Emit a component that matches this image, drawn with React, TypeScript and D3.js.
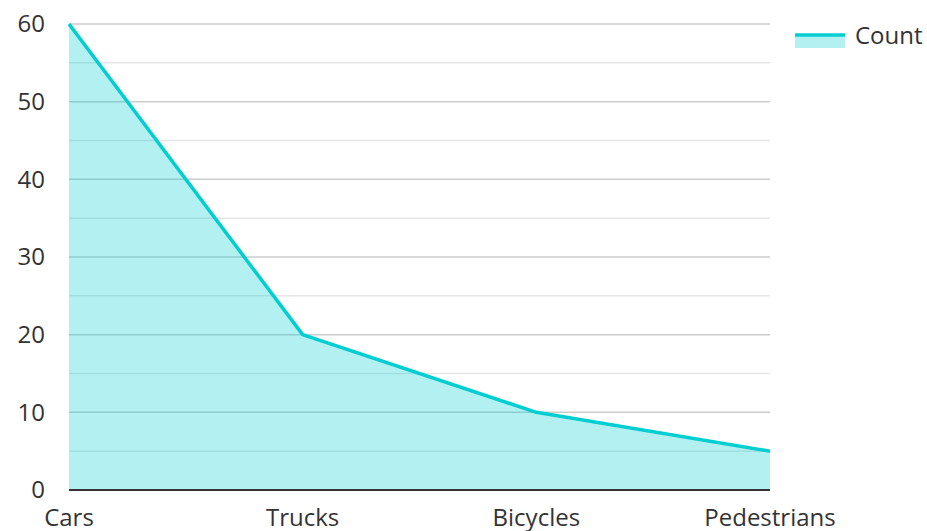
import React from "react";
import * as d3 from "d3";

const categories = ["Cars", "Trucks", "Bicycles", "Pedestrians"];
const counts = [60, 20, 10, 5];
const yTicks = [0, 10, 20, 30, 40, 50, 60];
const minorTicks = [5, 15, 25, 35, 45, 55];
const seriesName = "Count";

const W = 927, H = 531;
const M = { left: 69, right: 157, top: 24, bottom: 41 };
const FONT = "'Open Sans', 'Noto Sans', sans-serif";
const LINE = "#00CED1";

export default function App() {
  const x = d3.scalePoint<string>().domain(categories).range([M.left, W - M.right]);
  const y = d3.scaleLinear().domain([0, 60]).range([H - M.bottom, M.top]);
  const data = categories.map((c, i) => ({ c, v: counts[i] }));
  const line = d3.line<{ c: string; v: number }>().x(d => x(d.c)!).y(d => y(d.v));
  const area = d3.area<{ c: string; v: number }>().x(d => x(d.c)!).y0(y(0)).y1(d => y(d.v));
  return (
    <svg width={W} height={H} style={{ position: "absolute", left: 0, top: 0 }}>
      {minorTicks.map(t => (
        <line key={"m" + t} x1={M.left} x2={W - M.right} y1={y(t)} y2={y(t)} stroke="#e6e6e6" strokeWidth={1.5} />
      ))}
      {yTicks.filter(t => t !== 0).map(t => (
        <line key={"g" + t} x1={M.left} x2={W - M.right} y1={y(t)} y2={y(t)} stroke="#cccccc" strokeWidth={1.5} />
      ))}
      <path d={area(data)!} fill={LINE} fillOpacity={0.3} />
      <path d={line(data)!} fill="none" stroke={LINE} strokeWidth={3.5} strokeLinejoin="round" />
      <line x1={M.left} x2={W - M.right} y1={y(0)} y2={y(0)} stroke="#333" strokeWidth={2} />
      {yTicks.map(t => (
        <text key={"t" + t} x={45} y={y(t)} dy="0.35em" textAnchor="end" fontFamily={FONT} fontSize={24} fill="#333">{t}</text>
      ))}
      {categories.map(c => (
        <text key={c} x={x(c)!} y={526} textAnchor="middle" fontFamily={FONT} fontSize={24} fill="#333">{c}</text>
      ))}
      <rect x={795} y={35} width={50} height={13} fill={LINE} fillOpacity={0.3} />
      <line x1={795} x2={845} y1={35} y2={35} stroke={LINE} strokeWidth={3.5} />
      <text x={855} y={44} fontFamily={FONT} fontSize={24} fill="#333">{seriesName}</text>
    </svg>
  );
}
